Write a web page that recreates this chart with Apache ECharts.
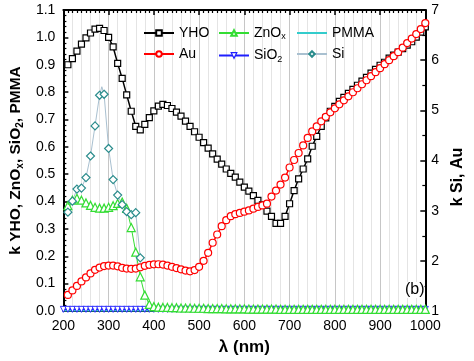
<!DOCTYPE html>
<html><head><meta charset="utf-8">
<script src="https://cdn.jsdelivr.net/npm/echarts@6/dist/echarts.min.js"></script>
<style>html,body{margin:0;padding:0;background:#fff}#c{width:474px;height:361px}</style>
</head><body><div id="c"></div><script>
// wavelengths (nm) for YHO, Au, ZnOx
const lambda = [210,220,230,240,250,260,270,280,290,300,310,320,330,340,350,360,370,380,390,400,
410,420,430,440,450,460,470,480,490,500,510,520,530,540,550,560,570,580,590,600,
610,620,630,640,650,660,670,680,690,700,710,720,730,740,750,760,770,780,790,800,
810,820,830,840,850,860,870,880,890,900,910,920,930,940,950,960,970,980,990,1000];
const kYHO = [0.900,0.922,0.950,0.975,0.998,1.016,1.030,1.033,1.025,1.000,0.965,0.905,0.850,0.790,0.730,0.675,0.662,0.682,0.707,0.731,
0.749,0.755,0.751,0.740,0.727,0.712,0.694,0.675,0.655,0.635,0.615,0.595,0.574,0.555,0.537,0.519,0.503,0.489,0.471,0.453,
0.438,0.422,0.404,0.388,0.365,0.346,0.320,0.320,0.346,0.392,0.440,0.483,0.519,0.556,0.602,0.638,0.675,0.706,0.730,0.748,
0.766,0.781,0.795,0.810,0.825,0.840,0.854,0.869,0.883,0.898,0.909,0.924,0.935,0.946,0.959,0.972,0.984,1.001,1.019,1.038];
const kAu = [1.32,1.41,1.50,1.59,1.67,1.75,1.82,1.865,1.895,1.905,1.905,1.89,1.86,1.845,1.84,1.845,1.87,1.90,1.92,1.93,
1.932,1.925,1.905,1.88,1.855,1.83,1.805,1.79,1.815,1.88,2.00,2.16,2.36,2.525,2.69,2.81,2.89,2.93,2.955,2.98,
3.005,3.04,3.075,3.105,3.14,3.28,3.40,3.52,3.66,3.86,4.01,4.15,4.30,4.45,4.58,4.68,4.78,4.87,4.96,5.04,
5.12,5.20,5.28,5.36,5.44,5.52,5.60,5.68,5.76,5.84,5.92,6.00,6.08,6.16,6.25,6.34,6.43,6.52,6.62,6.74];
const kZnOx = [0.385,0.405,0.412,0.405,0.395,0.386,0.379,0.376,0.376,0.379,0.385,0.393,0.398,0.375,0.305,0.215,0.125,0.058,0.024,0.016,
0.014,0.013,0.013,0.012,0.012,0.011,0.011,0.011,0.010,0.010,0.010,0.009,0.009,0.009,0.009,0.008,0.008,0.008,0.008,0.008,
0.007,0.007,0.007,0.007,0.007,0.007,0.007,0.006,0.006,0.006,0.006,0.006,0.006,0.006,0.006,0.006,0.006,0.006,0.006,0.006,
0.006,0.006,0.006,0.006,0.006,0.006,0.006,0.006,0.006,0.006,0.006,0.006,0.006,0.006,0.006,0.006,0.006,0.006,0.006,0.006];
// Si (right axis)
const lambdaSi = [210,220,230,240,250,260,270,280,285,290,300,310,320,330,340,350,360,370];
const kSi = [2.97,3.19,3.43,3.45,3.66,4.09,4.69,5.30,5.47,5.32,4.24,3.62,3.31,3.12,2.98,2.92,2.96,2.06];
// SiO2 and PMMA (left axis)
const lambdaSiO2 = [200,210,220,230,240,250,260,270,280,290,300,310,320,330,340,350,360,370,380,390,
400,410,420,430,440,450,460,470,480,490,500,510,520,530,540,550,560,570,580,590,
600,610,620,630,640,650,660,670,680,690,700,710,720,730,740,750,760,770,780,790,
800,810,820,830,840,850,860,870,880,890,900,910,920,930,940,950,960,970,980,990,1000];
const kSiO2 = [0.006,0.006,0.006,0.006,0.006,0.006,0.006,0.006,0.006,0.006,0.006,0.006,0.006,0.006,0.006,0.006,0.006,0.006,0.006,0.006,
0.006,0.006,0.006,0.006,0.006,0.006,0.006,0.006,0.006,0.006,0.006,0.006,0.006,0.006,0.006,0.006,0.006,0.006,0.006,0.006,
0.006,0.006,0.006,0.006,0.006,0.006,0.006,0.006,0.006,0.006,0.006,0.006,0.006,0.006,0.006,0.006,0.006,0.006,0.006,0.006,
0.006,0.006,0.006,0.006,0.006,0.006,0.006,0.006,0.006,0.006,0.006,0.006,0.006,0.006,0.006,0.006,0.006,0.006,0.006,0.006,0.006];
const lambdaPMMA = [200,300,400,500,600,700,800,900,1000];
const kPMMA = [0.002,0.002,0.002,0.002,0.002,0.002,0.002,0.002,0.002];
// axis ticks
const xTicks = {min: 200, max: 1000, step: 100};
const yLeftTicks = {min: 0, max: 1.1, step: 0.1};
const yRightTicks = {min: 1, max: 7, step: 1};

const FONT = 'Liberation Sans, Arial, sans-serif';
const pairs = (xs, ys) => xs.map((x, i) => [x, ys[i]]);
const chart = echarts.init(document.getElementById('c'), null, {renderer: 'canvas'});

const tickCommon = {inside: true, length: 5, lineStyle: {color: '#000', width: 1.5}};
const minorCommon = {show: true, length: 3, lineStyle: {color: '#000', width: 1.2}};
const axisLineCommon = {show: true, lineStyle: {color: '#000', width: 2}};
const labelStyle = {color: '#000', fontSize: 14, fontFamily: FONT};
const rich = {s: {fontSize: 9, verticalAlign: 'bottom', padding: [8, 0, 0, 0], fontFamily: FONT, color: '#000'}};
const richBold = {s: {fontSize: 10, fontWeight: 'bold', padding: [8, 0, 0, 0], fontFamily: FONT, color: '#000'}};

const legendBase = {
  orient: 'vertical', itemWidth: 30, itemHeight: 7, itemGap: 7, top: 21,
  textStyle: {color: '#000', fontSize: 14, fontFamily: FONT, rich: rich},
  formatter: n => n === 'ZnOx' ? 'ZnO{s|x}' : (n === 'SiO2' ? 'SiO{s|2}' : n)
};
const hollow = c => ({color: '#fff', borderColor: c, borderWidth: 1.2});

chart.setOption({
  animation: false,
  backgroundColor: '#fff',
  grid: {left: 58, right: 37, top: 10, bottom: 48},
  legend: [
    Object.assign({left: 138, data: ['YHO', 'Au']}, legendBase),
    Object.assign({left: 213, data: ['ZnOx', {name: 'SiO2', itemStyle: {color: '#fff', borderColor: '#1f1fff', borderWidth: 1.2}}]}, legendBase),
    Object.assign({left: 291, data: [{name: 'PMMA', icon: 'path://M0,0L30,0L30,2L0,2Z', itemStyle: {color: '#33cccc', borderWidth: 0}}, 'Si']}, legendBase)
  ],
  xAxis: [
    {type: 'value', position: 'bottom', min: xTicks.min, max: xTicks.max, interval: xTicks.step,
     axisLine: axisLineCommon, axisTick: tickCommon,
     minorTick: Object.assign({splitNumber: 10}, minorCommon),
     axisLabel: Object.assign({margin: 8, formatter: v => String(v)}, labelStyle), splitLine: {show: false},
     name: 'λ (nm)', nameLocation: 'middle', nameGap: 28,
     nameTextStyle: {color: '#000', fontSize: 17, fontWeight: 'bold', fontFamily: FONT}},
    {type: 'value', position: 'top', min: xTicks.min, max: xTicks.max, interval: xTicks.step,
     axisLine: axisLineCommon, axisTick: tickCommon,
     minorTick: Object.assign({splitNumber: 10}, minorCommon),
     axisLabel: {show: false}, splitLine: {show: false}},
    {type: 'value', position: 'bottom', min: xTicks.min, max: xTicks.max, interval: 20,
     axisLine: {show: false}, axisTick: {show: false}, axisLabel: {show: false},
     splitLine: {show: true, lineStyle: {width: 1, color: ['#c6c6c6', '#e4e4e4', '#e4e4e4', '#e4e4e4', '#e4e4e4']}}}
  ],
  yAxis: [
    {type: 'value', position: 'left', min: yLeftTicks.min, max: yLeftTicks.max, interval: yLeftTicks.step,
     axisLine: axisLineCommon, axisTick: tickCommon,
     minorTick: Object.assign({splitNumber: 5}, minorCommon),
     axisLabel: Object.assign({margin: 8, formatter: v => v.toFixed(1)}, labelStyle),
     splitLine: {show: false},
     name: 'k YHO, ZnO{s|x}, SiO{s|2}, PMMA', nameLocation: 'middle', nameGap: 38, nameRotate: 90,
     nameTextStyle: {color: '#000', fontSize: 15.5, fontWeight: 'bold', fontFamily: FONT, rich: richBold}},
    {type: 'value', position: 'right', min: yRightTicks.min, max: yRightTicks.max, interval: yRightTicks.step,
     axisLine: axisLineCommon, axisTick: tickCommon,
     minorTick: Object.assign({splitNumber: 2}, minorCommon),
     axisLabel: Object.assign({margin: 6}, labelStyle),
     splitLine: {show: false},
     name: 'k Si, Au', nameLocation: 'middle', nameGap: 20, nameRotate: 90,
     nameTextStyle: {color: '#000', fontSize: 16, fontWeight: 'bold', fontFamily: FONT, padding: [0, 33, 0, 0]}}
  ],
  series: [
    {name: 'PMMA', type: 'line', xAxisIndex: 0, yAxisIndex: 0, data: pairs(lambdaPMMA, kPMMA),
     symbol: 'none', lineStyle: {color: '#33cccc', width: 2}, itemStyle: {color: '#33cccc'}},
    {name: 'SiO2', type: 'line', xAxisIndex: 0, yAxisIndex: 0, data: pairs(lambdaSiO2, kSiO2),
     symbol: 'triangle', symbolRotate: 180, symbolSize: 6,
     lineStyle: {color: '#1f1fff', width: 1.2}, itemStyle: {color: '#fff', borderColor: '#1f1fff', borderWidth: 0.9}},
    {name: 'ZnOx', type: 'line', xAxisIndex: 0, yAxisIndex: 0, data: pairs(lambda, kZnOx),
     symbol: 'triangle', symbolSize: 8,
     lineStyle: {color: '#33dd33', width: 1}, itemStyle: hollow('#33dd33')},
    {name: 'YHO', type: 'line', xAxisIndex: 0, yAxisIndex: 0, data: pairs(lambda, kYHO),
     symbol: 'rect', symbolSize: 6,
     lineStyle: {color: '#000', width: 1.5}, itemStyle: hollow('#000')},
    {name: 'Si', type: 'line', xAxisIndex: 0, yAxisIndex: 1,
     data: lambdaSi.map((x, i) => x % 10 === 0 ? [x, kSi[i]] : {value: [x, kSi[i]], symbol: 'none'}),
     symbol: 'diamond', symbolSize: 8,
     lineStyle: {color: '#a9c0d0', width: 1}, itemStyle: hollow('#2a8c8c')},
    {name: 'Au', type: 'line', xAxisIndex: 0, yAxisIndex: 1, data: pairs(lambda, kAu),
     symbol: 'circle', symbolSize: 7,
     lineStyle: {color: '#ff0000', width: 1.5}, itemStyle: hollow('#ff0000')}
  ],
  graphic: [
    {type: 'text', left: 405, top: 282, z: 10,
     style: {text: '(b)', fontSize: 16, fontFamily: FONT, fill: '#000', backgroundColor: '#fff'}}
  ]
});
</script></body></html>
